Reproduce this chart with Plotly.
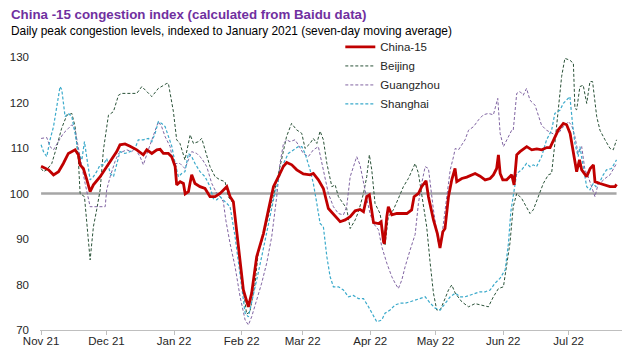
import pandas as pd
import plotly.graph_objects as go

BASE = pd.Timestamp("2021-11-01")

# Days since 1 Nov 2021 and index values
china_days = [0, 1.8, 3.4, 5.7, 8.0, 10.2, 12.5, 15.6, 17.1, 17.9, 19.4, 21.0, 22.5, 24.0, 27.1, 30.1, 32.4, 34.7, 36.2, 38.5,
              40.8, 43.9, 46.9, 48.5, 50.8, 53.1, 54.6, 56.1, 58.4, 59.9, 61.5, 62.2, 63.8, 65.3, 66.1, 67.6, 68.3, 69.1, 70.6,
              72.9, 75.2, 77.5, 79.8, 82.1, 85.2, 86.7, 88.2, 90.5, 92.8, 95.1, 96.6, 98.9, 100.5, 102.0, 104.3, 106.6, 108.9,
              111.2, 112.7, 115.0, 117.3, 120.3, 123.4, 124.9, 127.2, 129.5, 131.8, 134.9, 137.2, 139.5, 141.8, 144.1, 146.3,
              147.9, 148.6, 149.4, 150.6, 151.7, 152.5, 154.8, 156.0, 157.1, 157.5, 158.6, 159.3, 160.9, 163.2, 165.5, 167.8,
              170.0, 171.1, 173.1, 174.6, 176.6, 177.7, 180.0, 181.8, 183.0, 184.3, 185.3, 186.9, 188.4, 189.9, 190.7, 193.0,
              195.3, 197.6, 199.1, 201.4, 203.7, 206.0, 207.5, 209.0, 209.8, 210.6, 211.8, 213.6, 215.9, 217.0, 218.2, 219.7,
              222.8, 225.1, 227.4, 229.7, 232.0, 233.5, 235.0, 237.3, 239.6, 241.1, 242.7, 244.2, 245.7, 247.0, 248.0, 250.3,
              251.9, 253.4, 254.1, 256.4, 258.7, 261.0, 263.3, 264.0]
china_vals = [106.0, 105.5, 105.2, 104.1, 104.8, 106.6, 108.8, 109.6, 108.5, 106.3, 105.5, 103.0, 100.4, 101.9, 103.7, 105.9,
              107.7, 109.2, 110.7, 110.9, 110.4, 109.6, 108.5, 109.6, 108.8, 109.6, 109.7, 108.8, 108.8, 108.1, 105.9, 101.9,
              102.6, 102.2, 99.9, 100.4, 102.2, 104.1, 102.2, 101.5, 101.1, 99.3, 99.3, 100.0, 101.5, 99.3, 98.2, 88.3, 78.8,
              75.1, 78.1, 86.1, 89.0, 91.2, 96.4, 101.5, 103.7, 106.0, 106.8, 106.3, 105.2, 104.3, 104.1, 104.4, 103.0, 101.1,
              96.7, 94.9, 93.8, 94.2, 94.9, 96.2, 96.5, 96.0, 97.3, 99.3, 99.7, 96.4, 93.6, 93.4, 93.8, 89.4, 89.0, 94.9, 97.1,
              95.3, 95.6, 95.6, 95.6, 96.4, 99.3, 100.0, 101.5, 102.8, 99.3, 94.2, 91.2, 88.0, 91.6, 92.3, 99.3, 103.0, 105.5,
              102.6, 103.3, 103.6, 104.1, 104.4, 103.8, 103.0, 103.3, 104.1, 105.5, 108.5, 104.4, 103.0, 103.0, 104.1, 101.9,
              108.5, 109.2, 110.3, 109.6, 109.8, 109.6, 110.1, 110.1, 111.8, 114.0, 115.4, 115.1, 113.2, 108.8, 104.8, 107.4,
              105.2, 103.7, 105.5, 106.3, 102.6, 102.2, 101.9, 101.5, 101.5, 102.0]

beijing_days = [0, 1.1, 2.6, 4.9, 7.2, 9.4, 11.8, 14.1, 15.6, 17.1, 17.9, 19.9, 22.5, 24.0, 25.5, 27.1, 28.6, 30.9, 33.2, 35.5,
                37.0, 40.8, 43.9, 46.2, 48.5, 50.8, 53.8, 57.7, 58.4, 60.7, 62.2, 63.7, 66.0, 68.4, 69.9, 72.2, 73.7, 75.2, 77.5,
                79.8, 82.1, 84.4, 85.9, 88.2, 91.3, 94.3, 95.8, 98.1, 99.6, 101.9, 104.2, 107.2, 110.3, 112.6, 114.9, 117.2, 119.6,
                121.1, 123.4, 124.9, 126.5, 128.0, 129.5, 131.1, 133.4, 134.9, 136.4, 137.9, 140.2, 141.8, 144.1, 145.6, 147.9,
                149.4, 150.6, 151.7, 153.2, 155.5, 157.1, 157.8, 159.3, 161.6, 163.9, 166.2, 168.5, 170.0, 171.6, 173.1, 175.4,
                176.9, 178.5, 180.0, 181.5, 183.1, 185.4, 186.9, 188.4, 190.0, 193.0, 196.1, 199.1, 202.2, 205.2, 207.5, 209.8,
                212.1, 213.6, 215.1, 216.6, 218.2, 220.5, 222.8, 224.3, 225.8, 228.1, 230.4, 232.7, 234.2, 235.7, 237.3, 238.8,
                240.3, 242.6, 244.2, 244.9, 245.7, 247.2, 248.7, 250.3, 251.8, 253.0, 254.9, 256.4, 258.7, 261.0, 262.5, 264.0]
beijing_vals = [105.5, 104.8, 105.2, 106.6, 110.3, 114.3, 117.2, 117.6, 114.7, 107.4, 100.0, 99.3, 85.4, 92.7, 96.4, 100.8,
                109.6, 117.2, 118.0, 121.6, 122.0, 122.0, 122.0, 123.5, 122.4, 121.3, 123.1, 124.2, 124.2, 118.0, 111.8, 111.0,
                107.4, 112.9, 111.0, 111.4, 112.1, 109.6, 105.9, 103.7, 103.0, 102.6, 99.3, 97.8, 84.0, 73.5, 74.0, 80.0, 86.9,
                90.5, 94.9, 100.8, 107.4, 112.5, 115.4, 114.0, 113.2, 109.9, 111.0, 112.1, 111.0, 113.7, 111.8, 106.6, 101.5,
                101.9, 99.3, 98.2, 96.7, 92.3, 94.2, 96.0, 100.0, 103.7, 108.5, 105.2, 97.8, 95.6, 91.2, 88.7, 94.9, 96.4, 98.9,
                101.5, 103.3, 104.8, 106.6, 104.5, 97.8, 92.7, 84.7, 78.1, 74.4, 74.4, 77.0, 78.8, 79.9, 78.1, 76.2, 75.1, 75.8,
                75.5, 75.1, 77.3, 79.1, 79.5, 84.7, 89.1, 97.1, 100.0, 98.9, 96.7, 95.6, 96.4, 99.3, 102.2, 104.1, 104.4, 111.0,
                119.1, 125.7, 129.7, 129.3, 128.6, 118.7, 118.4, 123.5, 123.8, 119.8, 124.6, 124.6, 116.9, 113.9, 111.8, 109.9,
                109.6, 111.8]

guangzhou_days = [0, 2.6, 4.1, 5.7, 7.9, 10.2, 12.5, 14.1, 15.6, 17.1, 18.7, 20.2, 21.7, 22.5, 29.4, 30.1, 31.7, 33.9, 35.5,
                  37.8, 39.3, 41.6, 43.1, 45.4, 46.9, 49.2, 51.5, 53.8, 55.3, 56.9, 59.2, 60.7, 63.7, 66.0, 67.6, 69.1, 71.4,
                  73.7, 76.0, 78.3, 80.6, 82.1, 83.6, 84.8, 86.7, 89.0, 91.3, 93.6, 95.1, 96.6, 98.9, 101.2, 103.5, 105.8, 108.1,
                  109.6, 111.2, 112.7, 114.2, 116.5, 118.0, 120.3, 122.6, 124.9, 127.2, 129.5, 131.8, 134.1, 136.4, 138.7, 140.2,
                  141.8, 143.3, 144.8, 146.3, 147.9, 149.4, 150.9, 152.5, 154.8, 156.3, 158.6, 160.9, 162.4, 163.9, 165.5, 167.0,
                  169.3, 171.6, 173.1, 174.5, 176.2, 177.7, 180.0, 182.3, 183.8, 185.4, 187.7, 189.2, 190.0, 191.5, 193.0, 194.5,
                  196.1, 198.4, 200.7, 202.9, 205.2, 207.5, 209.5, 210.6, 212.1, 214.4, 215.9, 216.6, 218.2, 219.7, 221.2, 222.7,
                  224.3, 226.6, 228.1, 229.6, 231.9, 234.2, 235.7, 237.3, 239.6, 241.9, 243.4, 244.9, 246.4, 248.0, 249.5, 251.0,
                  252.6, 254.1, 255.6, 257.2, 258.7, 261.0, 264.0]
guangzhou_vals = [112.1, 112.3, 110.3, 109.6, 111.4, 113.2, 114.3, 115.1, 114.0, 109.6, 105.9, 102.2, 99.3, 97.1, 97.1, 100.8,
                  103.7, 107.0, 108.8, 109.2, 109.6, 109.2, 109.9, 108.1, 106.3, 109.6, 112.5, 115.8, 114.7, 112.5, 110.3, 106.6,
                  106.6, 105.5, 107.4, 109.2, 108.8, 107.7, 105.9, 102.2, 100.0, 99.3, 98.2, 94.0, 89.0, 83.9, 77.3, 72.2, 71.1,
                  72.9, 76.6, 80.3, 84.7, 90.5, 99.3, 106.6, 111.0, 111.8, 111.4, 111.8, 110.7, 108.8, 108.1, 109.6, 110.3, 105.5,
                  100.0, 97.1, 95.6, 95.3, 97.1, 103.7, 105.9, 108.1, 106.3, 102.2, 98.9, 95.6, 93.4, 92.0, 88.3, 84.7, 81.7, 80.3,
                  79.1, 81.0, 83.9, 87.6, 91.0, 97.8, 102.0, 105.9, 105.5, 96.4, 89.0, 90.5, 96.4, 105.2, 108.1, 109.9, 109.6,
                  110.7, 111.8, 113.9, 114.7, 116.2, 117.3, 117.6, 117.3, 120.9, 113.2, 110.3, 112.5, 113.9, 113.9, 122.0, 122.4,
                  121.6, 123.1, 120.5, 119.4, 117.2, 115.0, 113.9, 113.2, 112.9, 113.2, 114.7, 115.8, 115.0, 112.5, 108.8, 110.3,
                  105.2, 103.7, 101.5, 99.3, 102.2, 102.6, 103.3, 104.1, 106.6]

shanghai_days = [0, 1.1, 2.6, 4.1, 5.7, 7.2, 8.7, 9.5, 11.0, 12.5, 14.1, 15.6, 17.1, 18.7, 19.9, 20.9, 22.5, 24.0, 25.5, 27.1,
                 28.6, 30.1, 31.7, 33.2, 34.7, 36.2, 38.5, 40.8, 43.1, 44.6, 46.9, 49.2, 50.8, 52.3, 53.8, 55.3, 56.9, 58.4,
                 60.0, 61.5, 63.0, 64.5, 66.0, 67.6, 69.1, 70.6, 72.9, 75.2, 77.5, 79.0, 80.6, 82.1, 84.4, 86.7, 89.0, 91.3,
                 93.6, 95.1, 96.6, 98.9, 101.2, 104.2, 106.6, 108.9, 111.2, 113.4, 115.7, 118.0, 119.6, 121.1, 123.4, 124.9,
                 126.5, 128.0, 129.5, 131.1, 132.6, 134.1, 136.4, 138.7, 141.0, 143.3, 145.6, 147.9, 150.2, 152.5, 154.0, 156.3,
                 157.8, 160.1, 162.4, 164.7, 167.0, 169.3, 171.6, 173.9, 176.2, 178.5, 180.8, 183.1, 185.4, 187.7, 190.0, 192.2,
                 194.5, 196.8, 199.1, 201.4, 203.7, 206.0, 208.3, 210.6, 212.9, 214.4, 215.5, 217.0, 218.2, 220.5, 222.7, 224.3,
                 225.8, 227.3, 229.6, 231.9, 234.2, 235.7, 238.0, 239.6, 241.1, 242.6, 243.8, 244.9, 246.4, 247.2, 248.7, 250.3,
                 251.8, 253.3, 254.5, 256.4, 257.9, 259.4, 261.7, 264.0]
shanghai_vals = [110.7, 109.2, 108.1, 111.8, 114.7, 118.7, 123.5, 122.8, 116.9, 117.6, 116.9, 113.2, 108.8, 107.4, 111.4,
                 108.1, 103.0, 103.7, 104.8, 106.3, 106.3, 107.7, 104.4, 103.7, 106.6, 109.2, 108.8, 109.2, 109.9, 111.8, 111.8,
                 112.1, 111.4, 113.2, 115.8, 115.4, 114.7, 112.5, 110.3, 106.6, 103.7, 104.4, 104.8, 108.8, 108.1, 106.6, 104.8,
                 103.7, 101.5, 98.9, 98.6, 99.3, 98.2, 97.1, 90.5, 81.7, 73.7, 72.9, 75.9, 81.0, 86.1, 93.4, 98.6, 103.0, 106.6,
                 108.8, 109.6, 110.3, 110.3, 108.8, 105.2, 102.2, 97.8, 93.4, 92.7, 86.1, 81.7, 79.5, 79.5, 78.8, 77.3, 77.6,
                 76.9, 76.9, 75.1, 72.9, 71.8, 72.2, 73.7, 74.4, 75.5, 75.9, 75.9, 76.2, 76.6, 76.9, 77.3, 75.9, 74.8, 74.4, 75.9,
                 77.3, 78.1, 77.3, 77.3, 77.7, 78.1, 78.4, 78.4, 78.8, 80.3, 81.4, 83.2, 89.0, 96.0, 100.8, 104.4, 105.2, 106.6,
                 105.9, 106.3, 105.9, 108.1, 111.8, 113.9, 117.6, 118.3, 119.8, 120.5, 121.3, 115.4, 111.0, 108.1, 110.3, 105.9,
                 101.5, 100.8, 102.2, 101.5, 102.6, 104.1, 105.2, 105.5, 107.4]

baseline_days = [0, 264]
baseline_vals = [100, 100]

month_ticks = pd.date_range("2021-11-01", "2022-07-01", freq="MS")
tick_labels = ["Nov 21", "Dec 21", "Jan 22", "Feb 22", "Mar 22", "Apr 22", "May 22", "Jun 22", "Jul 22"]
y_ticks = [70, 80, 90, 100, 110, 120, 130]


def to_dates(days):
    return BASE + pd.to_timedelta(days, unit="D")


FONT = "Liberation Sans, Arial, sans-serif"
fig = go.Figure()

fig.add_trace(go.Scatter(x=to_dates(baseline_days), y=baseline_vals, mode="lines",
                         line=dict(color="#A6A6A6", width=2.5), showlegend=False, hoverinfo="skip"))

dash = "3px,2px"
fig.add_trace(go.Scatter(x=to_dates(beijing_days), y=beijing_vals, mode="lines", name="Beijing",
                         line=dict(color="#2A5238", width=1, dash=dash), legendrank=2))
fig.add_trace(go.Scatter(x=to_dates(guangzhou_days), y=guangzhou_vals, mode="lines", name="Guangzhou",
                         line=dict(color="#8064A2", width=1, dash=dash), legendrank=3))
fig.add_trace(go.Scatter(x=to_dates(shanghai_days), y=shanghai_vals, mode="lines", name="Shanghai",
                         line=dict(color="#3BAACB", width=1.2, dash=dash), legendrank=4))
fig.add_trace(go.Scatter(x=to_dates(china_days), y=china_vals, mode="lines", name="China-15",
                         line=dict(color="#C00000", width=2.8), legendrank=1))

# The page body adds an 8px offset, so the figure is sized to fit the 640x360 window.
fig.update_layout(
    width=632, height=352,
    margin=dict(l=32, r=18, t=49, b=30, autoexpand=False),
    paper_bgcolor="white", plot_bgcolor="white",
    font=dict(family=FONT, size=11.5, color="#262626"),
    legend=dict(x=0.516, y=1.09, xanchor="left", yanchor="top", bgcolor="rgba(0,0,0,0)",
                font=dict(size=11.5, color="#262626"), tracegroupgap=0, itemwidth=30),
    annotations=[
        dict(text="<b>China -15 congestion index (calculated from Baidu data)</b>", xref="paper", yref="paper",
             x=-0.053, y=1 + (57 - 14) / 273, xanchor="left", yanchor="middle", showarrow=False,
             font=dict(size=13.3, color="#7030A0", family=FONT)),
        dict(text="Daily peak congestion levels, indexed to January 2021 (seven-day moving average)",
             xref="paper", yref="paper", x=-0.053, y=1 + (57 - 31) / 273, xanchor="left", yanchor="middle",
             showarrow=False, font=dict(size=11.9, color="#000000", family=FONT)),
    ],
)
fig.update_xaxes(type="date", range=[BASE - pd.Timedelta(hours=12), BASE + pd.Timedelta(days=266.5)],
                 tickvals=month_ticks, ticktext=tick_labels, ticks="outside", ticklen=4, tickcolor="#BFBFBF",
                 showline=True, linecolor="#BFBFBF", linewidth=1, showgrid=False, zeroline=False,
                 ticklabelstandoff=-4, tickfont=dict(size=11.5, color="#262626"))
fig.update_yaxes(range=[70, 130], tickvals=y_ticks, showgrid=False, zeroline=False, showline=False,
                 ticks="", ticklabelstandoff=10, tickfont=dict(size=11.5, color="#262626"))

fig.write_html("out.html")
